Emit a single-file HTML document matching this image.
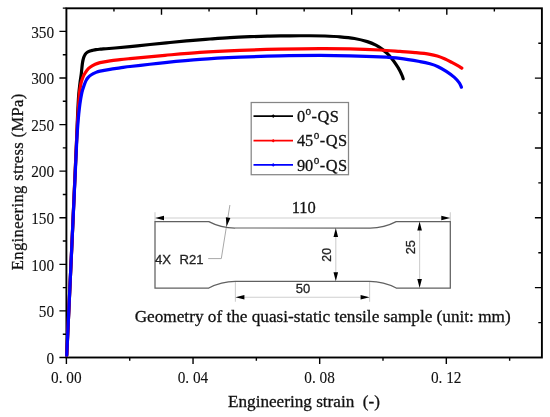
<!DOCTYPE html>
<html><head><meta charset="utf-8"><title>Engineering stress-strain</title>
<style>
html,body{margin:0;padding:0;background:#fff;}
body{width:550px;height:417px;overflow:hidden;}
svg{display:block;}
.serif{font-family:"Liberation Serif","Times New Roman",serif;stroke:#111;stroke-width:0.28px;}
.sans{font-family:"Liberation Sans",Arial,sans-serif;stroke:#222;stroke-width:0.3px;}
</style></head>
<body>
<svg width="550" height="417" viewBox="0 0 550 417">
<rect width="550" height="417" fill="#fff"/>
<!-- inset: specimen drawing -->
<g fill="none" stroke-linecap="butt">
<path d="M163.0 218.0 H442.3 M155.0 212.3 V221.6 M450.3 212.3 V221.6 M335.8 236.0 V273.3 M419.6 229.6 V280.0 M243.4 297.3 H361.6 M235.4 281.3 V301.8 M369.6 281.3 V301.8" stroke="#cfcfcf" stroke-width="1.1"/>
<path d="M208.2 258.6 H221.3 L229.9 205.0" stroke="#a8a8a8" stroke-width="1"/>
<path d="M155.0 221.6 H208.8 A56.3 56.3 0 0 0 235.4 228.0 H369.6 A56.3 56.3 0 0 0 396.2 221.6 H450.3 V288.0 H396.2 A56.3 56.3 0 0 0 369.6 281.3 H235.4 A56.3 56.3 0 0 0 208.8 288.0 H155.0 Z" stroke="#606060" stroke-width="1.25"/>
</g>
<path d="M155.00 218.00 L164.00 215.70 L164.00 220.30 Z M450.30 218.00 L441.30 220.30 L441.30 215.70 Z M335.80 228.00 L338.10 237.00 L333.50 237.00 Z M335.80 281.30 L333.50 272.30 L338.10 272.30 Z M419.60 221.60 L421.90 230.60 L417.30 230.60 Z M419.60 288.00 L417.30 279.00 L421.90 279.00 Z M235.40 297.30 L244.40 295.00 L244.40 299.60 Z M369.60 297.30 L360.60 299.60 L360.60 295.00 Z M226.60 226.40 L225.84 217.14 L230.38 217.91 Z" fill="#000"/>
<g class="sans" font-size="12" fill="#222">
<text x="155.0" y="263.8" font-size="13.1">4X</text>
<text x="179.6" y="263.8" font-size="13.1">R21</text>
<text x="303" y="292.9" font-size="13" text-anchor="middle">50</text>
<text transform="translate(331.3 254.8) rotate(-90)" font-size="12.3" text-anchor="middle">20</text>
<text transform="translate(414.9 247.2) rotate(-90)" font-size="12.8" text-anchor="middle">25</text>
</g>
<g class="serif" fill="#111">
<text transform="translate(303.7 212.6) scale(1 1.06)" font-size="16.5" text-anchor="middle">110</text>
<text x="134.7" y="322.0" font-size="17.1" textLength="376.0" lengthAdjust="spacingAndGlyphs">Geometry of the quasi-static tensile sample (unit: mm)</text>
</g>
<!-- axes -->
<rect x="66.40" y="8.3" width="475.50" height="349.20" fill="none" stroke="#000" stroke-width="1.9"/>
<path d="M59.40 357.50 H66.40 M62.80 334.21 H66.40 M59.40 310.92 H66.40 M62.80 287.63 H66.40 M59.40 264.33 H66.40 M62.80 241.04 H66.40 M59.40 217.75 H66.40 M62.80 194.46 H66.40 M59.40 171.17 H66.40 M62.80 147.88 H66.40 M59.40 124.58 H66.40 M62.80 101.29 H66.40 M59.40 78.00 H66.40 M62.80 54.71 H66.40 M59.40 31.42 H66.40 M62.80 8.13 H66.40 M66.40 357.50 V364.00 M129.72 357.50 V360.70 M193.04 357.50 V364.00 M256.36 357.50 V360.70 M319.68 357.50 V364.00 M383.00 357.50 V360.70 M446.32 357.50 V364.00 M509.64 357.50 V360.70 M113.95 8.30 V11.50 M161.50 8.30 V14.80 M209.05 8.30 V11.50 M256.60 8.30 V14.80 M304.15 8.30 V11.50 M351.70 8.30 V14.80 M399.25 8.30 V11.50 M446.80 8.30 V14.80 M494.35 8.30 V11.50 M541.90 43.22 H538.30 M541.90 78.14 H534.90 M541.90 113.06 H538.30 M541.90 147.98 H534.90 M541.90 182.90 H538.30 M541.90 217.82 H534.90 M541.90 252.74 H538.30 M541.90 287.66 H534.90 M541.90 322.58 H538.30" stroke="#000" stroke-width="1.4" fill="none"/>
<!-- curves -->
<g fill="none" stroke-width="3.2" stroke-linejoin="round" stroke-linecap="round">
<path d="M66.75 355.20 C68.40 319.70 70.08 284.20 71.70 248.70 C73.36 212.47 75.00 176.23 76.60 140.00 C76.97 131.67 77.21 123.33 77.60 115.00 C77.91 108.33 78.20 101.66 78.70 95.00 C79.03 90.66 79.57 86.33 80.10 82.00 C80.41 79.49 80.87 77.01 81.20 74.50 C81.44 72.64 81.59 70.77 81.80 68.90 C82.03 66.83 82.16 64.75 82.50 62.70 C82.79 60.95 83.16 59.18 83.70 57.50 C84.06 56.38 84.54 55.25 85.20 54.30 C85.74 53.52 86.51 52.84 87.30 52.30 C88.11 51.74 89.07 51.34 90.00 51.00 C90.97 50.64 91.99 50.44 93.00 50.20 C93.99 49.97 94.99 49.74 96.00 49.60 C97.32 49.41 98.66 49.31 100.00 49.20 C102.00 49.03 104.00 48.91 106.00 48.75 C109.00 48.51 112.00 48.27 115.00 48.00 C120.00 47.55 125.00 47.10 130.00 46.60 C136.67 45.93 143.33 45.18 150.00 44.50 C156.66 43.82 163.33 43.15 170.00 42.50 C176.67 41.85 183.33 41.18 190.00 40.60 C196.66 40.02 203.33 39.50 210.00 39.00 C216.66 38.50 223.33 37.98 230.00 37.60 C236.66 37.22 243.33 36.95 250.00 36.70 C256.66 36.45 263.33 36.25 270.00 36.10 C276.67 35.95 283.33 35.86 290.00 35.80 C296.67 35.74 303.33 35.71 310.00 35.75 C315.00 35.78 320.00 35.83 325.00 36.00 C330.00 36.18 335.01 36.38 340.00 36.80 C344.85 37.21 349.72 37.66 354.50 38.50 C358.82 39.26 363.12 40.29 367.30 41.60 C370.26 42.53 373.15 43.78 375.90 45.20 C378.18 46.38 380.33 47.87 382.40 49.40 C384.16 50.70 385.84 52.16 387.40 53.70 C388.94 55.22 390.34 56.91 391.70 58.60 C393.21 60.47 394.65 62.41 396.00 64.40 C397.28 66.28 398.52 68.20 399.60 70.20 C400.62 72.07 401.48 74.04 402.30 76.00 C402.68 76.90 402.90 77.87 403.20 78.80" stroke="#000"/>
<path d="M66.75 355.20 C68.40 319.70 70.08 284.20 71.70 248.70 C73.36 212.47 74.94 176.23 76.60 140.00 C76.87 134.00 77.16 128.00 77.50 122.00 C77.73 118.00 78.04 114.00 78.30 110.00 C78.54 106.33 78.74 102.66 79.00 99.00 C79.14 97.00 79.29 95.00 79.50 93.00 C79.69 91.16 79.90 89.32 80.20 87.50 C80.47 85.82 80.78 84.14 81.20 82.50 C81.55 81.14 82.00 79.81 82.50 78.50 C83.00 77.18 83.53 75.84 84.20 74.60 C85.03 73.08 85.91 71.54 87.00 70.20 C87.98 69.00 89.15 67.90 90.40 67.00 C91.88 65.94 93.54 65.06 95.20 64.30 C96.74 63.60 98.35 62.99 100.00 62.60 C103.29 61.82 106.65 61.30 110.00 60.80 C113.32 60.30 116.66 59.97 120.00 59.60 C123.33 59.23 126.67 58.92 130.00 58.60 C141.67 57.49 153.33 56.33 165.00 55.30 C176.66 54.27 188.32 53.16 200.00 52.40 C213.32 51.53 226.66 50.93 240.00 50.40 C253.33 49.87 266.66 49.50 280.00 49.20 C293.33 48.90 306.67 48.66 320.00 48.60 C330.00 48.56 340.00 48.67 350.00 48.90 C360.00 49.13 370.01 49.50 380.00 50.00 C386.67 50.33 393.34 50.90 400.00 51.40 C405.00 51.77 410.01 52.12 415.00 52.60 C420.01 53.08 425.03 53.54 430.00 54.30 C432.47 54.68 434.92 55.26 437.30 56.00 C439.75 56.76 442.15 57.76 444.50 58.80 C446.98 59.89 449.39 61.15 451.80 62.40 C454.26 63.68 456.70 65.01 459.10 66.40 C460.03 66.94 460.90 67.60 461.80 68.20" stroke="#ff0000"/>
<path d="M66.75 355.20 C68.40 319.70 70.04 284.20 71.70 248.70 C73.39 212.47 74.97 176.23 76.80 140.00 C77.14 133.33 77.66 126.66 78.20 120.00 C78.53 115.99 78.93 111.99 79.40 108.00 C79.73 105.16 80.14 102.32 80.60 99.50 C81.01 96.99 81.40 94.47 82.00 92.00 C82.53 89.83 83.26 87.71 84.00 85.60 C84.59 83.91 85.20 82.20 86.00 80.60 C86.53 79.53 87.21 78.49 88.00 77.60 C88.87 76.62 89.90 75.72 91.00 75.00 C92.56 73.98 94.28 73.14 96.00 72.40 C97.28 71.84 98.63 71.40 100.00 71.10 C103.30 70.37 106.66 69.83 110.00 69.30 C113.32 68.77 116.67 68.37 120.00 67.90 C123.33 67.43 126.66 66.89 130.00 66.50 C141.66 65.13 153.32 63.78 165.00 62.60 C176.65 61.42 188.32 60.24 200.00 59.40 C213.32 58.44 226.66 57.80 240.00 57.20 C253.33 56.60 266.66 56.10 280.00 55.80 C293.33 55.50 306.67 55.40 320.00 55.40 C330.00 55.40 340.00 55.55 350.00 55.80 C360.00 56.05 370.01 56.38 380.00 56.90 C386.68 57.25 393.37 57.62 400.00 58.40 C406.70 59.19 413.36 60.40 420.00 61.60 C423.36 62.20 426.72 62.88 430.00 63.80 C432.75 64.58 435.51 65.49 438.10 66.70 C440.94 68.03 443.67 69.67 446.30 71.40 C449.10 73.24 451.90 75.19 454.40 77.40 C456.23 79.02 457.89 80.92 459.30 82.90 C460.22 84.19 460.70 85.77 461.40 87.20" stroke="#0000ff"/>
</g>
<g class="serif" font-size="15.3" fill="#111" style="stroke-width:0.1px">
<text transform="translate(54.1 363.70) scale(1 1.13)" text-anchor="end">0</text><text transform="translate(54.1 317.12) scale(1 1.13)" text-anchor="end">50</text><text transform="translate(54.1 270.53) scale(1 1.13)" text-anchor="end">100</text><text transform="translate(54.1 223.95) scale(1 1.13)" text-anchor="end">150</text><text transform="translate(54.1 177.37) scale(1 1.13)" text-anchor="end">200</text><text transform="translate(54.1 130.78) scale(1 1.13)" text-anchor="end">250</text><text transform="translate(54.1 84.20) scale(1 1.13)" text-anchor="end">300</text><text transform="translate(54.1 37.62) scale(1 1.13)" text-anchor="end">350</text>
<text transform="translate(66.30 382.5) scale(1 1.13)" text-anchor="middle">0. 00</text><text transform="translate(192.94 382.5) scale(1 1.13)" text-anchor="middle">0. 04</text><text transform="translate(319.58 382.5) scale(1 1.13)" text-anchor="middle">0. 08</text><text transform="translate(446.22 382.5) scale(1 1.13)" text-anchor="middle">0. 12</text>
</g>
<g class="serif" font-size="16.6" fill="#111">
<text transform="translate(228 407.4) scale(1 1.06)" xml:space="preserve" style="white-space:pre" textLength="152" lengthAdjust="spacingAndGlyphs">Engineering strain  (-)</text>
<text transform="translate(23.3 181.9) rotate(-90)" text-anchor="middle" textLength="176.5" lengthAdjust="spacing">Engineering stress (MPa)</text>
</g>
<!-- legend -->
<rect x="251.2" y="102.5" width="97.3" height="72.2" fill="#fff" stroke="#858585" stroke-width="1.25"/>
<g stroke-width="1.8">
<path d="M253.5 116.1 H293" stroke="#000"/>
<path d="M253.5 140.7 H293" stroke="#ff0000"/>
<path d="M253.5 164.9 H293" stroke="#0000ff"/>
</g>
<g>
<path d="M273.2 114.3 L275 116.1 L273.2 117.9 L271.4 116.1 Z" fill="#000"/>
<path d="M273.2 138.9 L275 140.7 L273.2 142.5 L271.4 140.7 Z" fill="#ff0000"/>
<path d="M273.2 163.1 L275 164.9 L273.2 166.7 L271.4 164.9 Z" fill="#0000ff"/>
</g>
<g class="serif" font-size="16.4" fill="#111">
<text transform="translate(296.9 121.9) scale(1 1.05)">0<tspan font-size="11.2" dx="0.5" dy="-6.8">o</tspan><tspan dx="0.4" dy="6.8" letter-spacing="0.45">-QS</tspan></text>
<text transform="translate(296.9 146.4) scale(1 1.05)">45<tspan font-size="11.2" dx="0.5" dy="-6.8">o</tspan><tspan dx="0.4" dy="6.8" letter-spacing="0.45">-QS</tspan></text>
<text transform="translate(296.9 171.0) scale(1 1.05)">90<tspan font-size="11.2" dx="0.5" dy="-6.8">o</tspan><tspan dx="0.4" dy="6.8" letter-spacing="0.45">-QS</tspan></text>
</g>
</svg>
</body></html>
